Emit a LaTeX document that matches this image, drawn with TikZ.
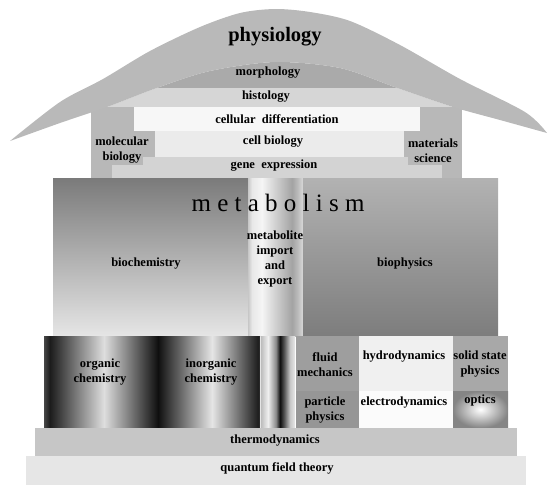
\documentclass[tikz,border=0pt]{standalone}
\usepackage{fontspec}
\setmainfont{Liberation Serif}
\newfontfamily\spacedfont[LetterSpace=25]{Liberation Serif}
\definecolor{domec}{HTML}{B9B9B9}
\definecolor{morphc}{HTML}{AAAAAA}
\definecolor{histc}{HTML}{D6D6D6}
\definecolor{cdiffc}{HTML}{F7F7F7}
\definecolor{cbioc}{HTML}{EBEBEB}
\definecolor{genec}{HTML}{D3D3D3}
\definecolor{pillarc}{HTML}{B8B8B8}
\definecolor{fluidc}{HTML}{9E9E9E}
\definecolor{hydroc}{HTML}{F0F0F0}
\definecolor{electroc}{HTML}{FBFBFB}
\definecolor{solidc}{HTML}{A8A8A8}
\definecolor{thermoc}{HTML}{C6C6C6}
\definecolor{qftc}{HTML}{E6E6E6}
\pgfdeclarehorizontalshading{orgstripes}{100bp}{%
 color(0bp)=(black!72); color(25bp)=(black!72); color(26.4bp)=(black!89);
 color(38.9bp)=(black!13); color(51.4bp)=(black!94); color(63.9bp)=(black!10);
 color(74.5bp)=(black!88); color(75bp)=(black!80); color(100bp)=(black!80)}
\pgfdeclarehorizontalshading{narrowstripes}{100bp}{%
 color(0bp)=(black!26); color(25bp)=(black!26); color(35.3bp)=(black!6);
 color(47bp)=(black!46); color(52.9bp)=(black!95); color(58.8bp)=(black!68);
 color(67.6bp)=(black!22); color(75bp)=(black!9); color(100bp)=(black!9)}
\pgfdeclarehorizontalshading{metabcol}{100bp}{%
 color(0bp)=(black!22); color(25bp)=(black!22); color(28.6bp)=(black!9);
 color(37.7bp)=(black!4); color(65bp)=(black!36); color(69.5bp)=(black!28);
 color(75bp)=(black!15); color(100bp)=(black!15)}
\tikzset{lbl/.style={font=\bfseries\fontsize{12.5}{15}\selectfont, align=center, inner sep=0pt}}
\begin{document}
\begin{tikzpicture}[x=1pt,y=-1pt]
\useasboundingbox (0,0) rectangle (550,493);
% morphology and histology under the dome
\begin{scope}
 \clip plot[smooth] coordinates {(10,141) (60,123) (107,107) (158,87.5) (210,71) (275,62) (340,68) (396,87.5) (453,107) (500,120) (547,133)} -- cycle;
 \fill[morphc] (0,0) rectangle (550,87.5);
 \fill[histc] (0,87.5) rectangle (550,107);
\end{scope}
% rows
\fill[cdiffc] (134,107) rectangle (420,131);
\fill[cbioc] (154,131) rectangle (405,157);
\fill[genec] (112,157) rectangle (442,178);
% pillars
\fill[pillarc] (91,107) rectangle (112,178);
\fill[pillarc] (91,107) rectangle (134,131);
\fill[pillarc] (91,131) rectangle (155,157);
\fill[pillarc] (91,157) rectangle (143,165);
\fill[pillarc] (442,107) rectangle (462,178);
\fill[pillarc] (420,107) rectangle (462,131);
\fill[pillarc] (404,131) rectangle (462,157);
\fill[pillarc] (408,157) rectangle (462,165);
% dome
\fill[domec] plot[smooth] coordinates {(547,133) (525,112) (460,79) (400,45) (350,21) (310,12) (275,9) (240,13) (200,27) (150,51) (103,79) (60,102) (10,141)}
  -- plot[smooth] coordinates {(10,141) (60,123) (107,107) (158,87.5) (210,71) (275,62) (340,68) (396,87.5) (453,107) (500,120) (547,133)} -- cycle;
% metabolism block
\shade[top color=black!52, bottom color=black!10] (53,178) rectangle (248,336);
\shade[shading=metabcol] (248,178) rectangle (303,336);
\shade[top color=black!30, bottom color=black!51] (303,178) rectangle (498,336);
% bottom row
\shade[shading=orgstripes] (44,336) rectangle (260,428);
\shade[shading=narrowstripes] (261,336) rectangle (295,428);
\fill[fluidc] (296,336) rectangle (359,391);
\fill[hydroc] (359,336) rectangle (453,391);
\fill[solidc] (453,336) rectangle (508,391);
\fill[fluidc!95!black] (296,391) rectangle (359,428);
\fill[electroc] (359,391) rectangle (453,428);
\shade[inner color=white, outer color=black!48] (453,391) rectangle (508,428);
\fill[thermoc] (35,428) rectangle (517,456);
\fill[qftc] (26,456) rectangle (526,485);
% labels
\node[lbl, font=\bfseries\fontsize{20.5}{24}\selectfont] (physio) at (275,37) {physiology};
\node[lbl] (morph) at (268,73) {morphology};
\node[lbl] (hist) at (266,97) {histology};
\node[lbl] (cdiff) at (277,119) {cellular\ \ differentiation};
\node[lbl] (cbio) at (273,142) {cell biology};
\node[lbl] (gene) at (274,166) {gene\ \ expression};
\node[lbl] (molbio) at (122,150.5) {molecular\\biology};
\node[lbl] (matsci) at (433,150.5) {materials\\science};
\node[inner sep=0pt, font=\spacedfont\fontsize{25}{25}\selectfont] (metab) at (278,203) {metabolism};
\node[lbl] (biochem) at (146,264) {biochemistry};
\node[lbl] (metimp) at (275,259) {metabolite\\import\\and\\export};
\node[lbl] (biophys) at (405,264) {biophysics};
\node[lbl] (organic) at (100,372.5) {organic\\chemistry};
\node[lbl] (inorganic) at (211,372.5) {inorganic\\chemistry};
\node[lbl] (fluid) at (325,364.5) {fluid\\mechanics};
\node[lbl] (hydro) at (404,357) {hydrodynamics};
\node[lbl] (solid) at (480,364.5) {solid state\\physics};
\node[lbl] (particle) at (325,410.5) {particle\\physics};
\node[lbl] (electro) at (404,403) {electrodynamics};
\node[lbl] (optics) at (480,400) {optics};
\node[lbl] (thermo) at (275,441) {thermodynamics};
\node[lbl] (qft) at (277,468) {quantum field theory};
\end{tikzpicture}
\end{document}
